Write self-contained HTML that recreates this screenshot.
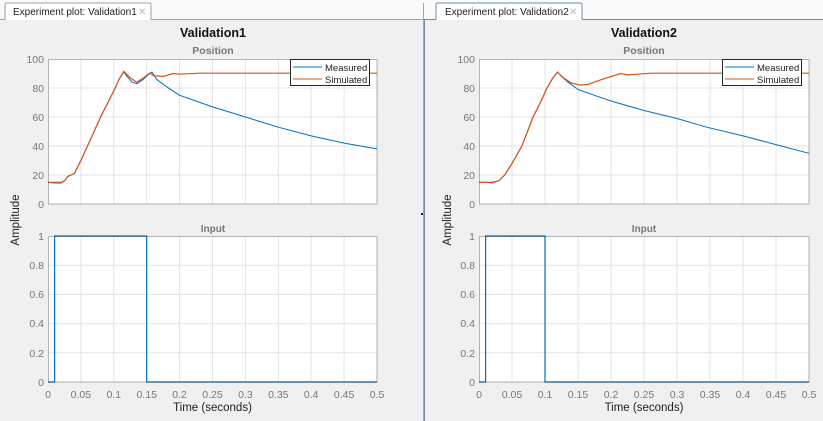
<!DOCTYPE html>
<html><head><meta charset="utf-8"><style>
html,body{margin:0;padding:0;background:#f0f0f0;}
svg{display:block;font-family:"Liberation Sans",Arial,sans-serif;}
</style></head><body>
<svg width="823" height="421" viewBox="0 0 823 421" xmlns="http://www.w3.org/2000/svg">
<rect width="823" height="421" fill="#f0f0f0"/>
<rect x="0" y="0" width="823" height="19" fill="#fafafa"/>
<line x1="0" y1="19.5" x2="423" y2="19.5" stroke="#a0a0a0"/>
<line x1="423" y1="19.5" x2="823" y2="19.5" stroke="#6d8bb0"/>
<path d="M5,20 V5 Q5,3 7,3 H149 Q151,3 151,5 V20" fill="#fff" stroke="#a0a0a0"/>
<text x="13" y="15" font-size="10" fill="#222">Experiment plot: Validation1</text>
<text x="138" y="15" font-size="10" fill="#bbb">✕</text>
<path d="M436,20 V5 Q436,3 438,3 H580 Q582,3 582,5 V20" fill="#fff" stroke="#6d8bb0"/>
<text x="445" y="15" font-size="10" fill="#222">Experiment plot: Validation2</text>
<text x="569" y="15" font-size="10" fill="#bbb">✕</text>
<line x1="423.5" y1="3" x2="423.5" y2="421" stroke="#9aa8b8"/>
<line x1="424.5" y1="19" x2="424.5" y2="421" stroke="#6d8bb0"/>
<rect x="421" y="213" width="2" height="2" fill="#222"/>

<g id="P1">
<text x="213" y="37" font-size="12.5" font-weight="bold" text-anchor="middle" fill="#111">Validation1</text>
<text x="213" y="54" font-size="10.5" font-weight="bold" text-anchor="middle" fill="#777">Position</text>
<text x="213" y="232" font-size="10" font-weight="bold" text-anchor="middle" fill="#777">Input</text>
<rect x="48" y="59" width="329" height="145" fill="#fff"/>
<rect x="48" y="236" width="329" height="146" fill="#fff"/>
<g stroke="#e3e3e3" stroke-width="1">
<path d="M80.9,59V204M113.8,59V204M146.7,59V204M179.6,59V204M212.5,59V204M245.4,59V204M278.3,59V204M311.2,59V204M344.1,59V204"/>
<path d="M48,175H377M48,146H377M48,117H377M48,88H377"/>
<path d="M80.9,236V382M113.8,236V382M146.7,236V382M179.6,236V382M212.5,236V382M245.4,236V382M278.3,236V382M311.2,236V382M344.1,236V382"/>
<path d="M48,352.8H377M48,323.6H377M48,294.4H377M48,265.2H377"/>
</g>
<polyline fill="none" stroke="#0072bd" stroke-width="1" stroke-linejoin="round" points="48,182.3 54.6,183 61.2,183 64.5,180.8 67.7,176.5 74.3,173.5 80.9,160.5 87.5,146 94.1,131.5 100.6,117 107.2,104 113.8,90.9 119.1,79.3 123.7,72 127,76.4 132.2,82.2 136.8,83.7 143.4,79.3 148,74.9 152,72 156.6,79.3 166.4,86.6 179.6,95.3 212.5,106.9 245.4,117 278.3,127.2 311.2,135.9 344.1,143.1 377,148.9"/>
<polyline fill="none" stroke="#d95319" stroke-width="1.2" stroke-linejoin="round" points="48,182.3 54.6,182.3 61.2,182.3 64.5,180.8 67.7,176.5 74.3,173.5 80.9,160.5 87.5,146 94.1,131.5 100.6,117 107.2,104 113.8,90.9 119.1,79.3 123.7,71.3 130.3,77.9 136.8,82.2 143.4,77.9 150,72.8 153.3,75.7 163.2,76.4 173,73.5 179.6,74.2 199.3,73.2 377,73.2"/>
<polyline fill="none" stroke="#0072bd" stroke-width="1.2" points="48,382 54.6,382 54.6,236 146.7,236 146.7,382 377,382"/>
<rect x="48.5" y="59.5" width="328.5" height="144.5" fill="none" stroke="#262626" stroke-opacity="0.35"/>
<rect x="48.5" y="236.5" width="328.5" height="145.5" fill="none" stroke="#262626" stroke-opacity="0.35"/>
<rect x="290.5" y="59.5" width="79" height="26" fill="#fff" stroke="#262626"/>
<line x1="293" y1="67" x2="322" y2="67" stroke="#0072bd"/>
<line x1="293" y1="79" x2="322" y2="79" stroke="#d95319"/>
<text x="325" y="71" font-size="9.5" fill="#222">Measured</text>
<text x="325" y="83" font-size="9.5" fill="#222">Simulated</text>
<g font-size="10.5" fill="#777" text-anchor="end">
<text x="44" y="63">100</text><text x="44" y="92">80</text><text x="44" y="121">60</text><text x="44" y="150">40</text><text x="44" y="179">20</text><text x="44" y="208">0</text>
<text x="44" y="240">1</text><text x="44" y="269">0.8</text><text x="44" y="298">0.6</text><text x="44" y="327">0.4</text><text x="44" y="357">0.2</text><text x="44" y="386">0</text>
</g>
<g font-size="10.5" fill="#777" text-anchor="middle">
<text x="48" y="398">0</text><text x="80.9" y="398">0.05</text><text x="113.8" y="398">0.1</text><text x="146.7" y="398">0.15</text><text x="179.6" y="398">0.2</text><text x="212.5" y="398">0.25</text><text x="245.4" y="398">0.3</text><text x="278.3" y="398">0.35</text><text x="311.2" y="398">0.4</text><text x="344.1" y="398">0.45</text><text x="377" y="398">0.5</text>
</g>
<text x="212.5" y="411" font-size="11.5" text-anchor="middle" fill="#222">Time (seconds)</text>
<text transform="translate(19,220) rotate(-90)" font-size="11.5" text-anchor="middle" fill="#222">Amplitude</text>
</g>

<g id="P2">
<text x="644" y="37" font-size="12.5" font-weight="bold" text-anchor="middle" fill="#111">Validation2</text>
<text x="644" y="54" font-size="10.5" font-weight="bold" text-anchor="middle" fill="#777">Position</text>
<text x="644" y="232" font-size="10" font-weight="bold" text-anchor="middle" fill="#777">Input</text>
<rect x="479" y="59" width="330" height="145" fill="#fff"/>
<rect x="479" y="236" width="330" height="146" fill="#fff"/>
<g stroke="#e3e3e3" stroke-width="1">
<path d="M512,59V204M545,59V204M578,59V204M611,59V204M644,59V204M677,59V204M710,59V204M743,59V204M776,59V204"/>
<path d="M479,175H809M479,146H809M479,117H809M479,88H809"/>
<path d="M512,236V382M545,236V382M578,236V382M611,236V382M644,236V382M677,236V382M710,236V382M743,236V382M776,236V382"/>
<path d="M479,352.8H809M479,323.6H809M479,294.4H809M479,265.2H809"/>
</g>
<polyline fill="none" stroke="#0072bd" stroke-width="1" stroke-linejoin="round" points="479,182.3 485.6,182.3 492.2,183 498.8,180.8 504.7,175 512,163.4 521.9,146 533.1,117 540.4,102.5 547,88 552.9,77.9 557.5,72 561.5,76.4 568.1,82.2 578,89.5 594.5,95.3 611,101 644,110.5 677,118.5 706.7,127.2 743,135.9 776,144.6 809,153.3"/>
<polyline fill="none" stroke="#d95319" stroke-width="1.2" stroke-linejoin="round" points="479,182.3 485.6,182.3 492.2,182.3 498.8,180.8 504.7,175 512,163.4 521.9,146 533.1,117 540.4,102.5 547,88 552.9,77.9 557.5,72 563.5,77.9 571.4,83 580,85.1 587.9,84.4 604.4,78.6 620.9,73.5 627.5,74.9 637.4,74.2 650.6,73.2 809,73.2"/>
<polyline fill="none" stroke="#0072bd" stroke-width="1.2" points="479,382 485.6,382 485.6,236 545,236 545,382 809,382"/>
<rect x="479.5" y="59.5" width="329.5" height="144.5" fill="none" stroke="#262626" stroke-opacity="0.35"/>
<rect x="479.5" y="236.5" width="329.5" height="145.5" fill="none" stroke="#262626" stroke-opacity="0.35"/>
<rect x="722.5" y="59.5" width="79" height="26" fill="#fff" stroke="#262626"/>
<line x1="725" y1="67" x2="754" y2="67" stroke="#0072bd"/>
<line x1="725" y1="79" x2="754" y2="79" stroke="#d95319"/>
<text x="757" y="71" font-size="9.5" fill="#222">Measured</text>
<text x="757" y="83" font-size="9.5" fill="#222">Simulated</text>
<g font-size="10.5" fill="#777" text-anchor="end">
<text x="475" y="63">100</text><text x="475" y="92">80</text><text x="475" y="121">60</text><text x="475" y="150">40</text><text x="475" y="179">20</text><text x="475" y="208">0</text>
<text x="475" y="240">1</text><text x="475" y="269">0.8</text><text x="475" y="298">0.6</text><text x="475" y="327">0.4</text><text x="475" y="357">0.2</text><text x="475" y="386">0</text>
</g>
<g font-size="10.5" fill="#777" text-anchor="middle">
<text x="479" y="398">0</text><text x="512" y="398">0.05</text><text x="545" y="398">0.1</text><text x="578" y="398">0.15</text><text x="611" y="398">0.2</text><text x="644" y="398">0.25</text><text x="677" y="398">0.3</text><text x="710" y="398">0.35</text><text x="743" y="398">0.4</text><text x="776" y="398">0.45</text><text x="809" y="398">0.5</text>
</g>
<text x="644" y="411" font-size="11.5" text-anchor="middle" fill="#222">Time (seconds)</text>
<text transform="translate(451,220) rotate(-90)" font-size="11.5" text-anchor="middle" fill="#222">Amplitude</text>
</g>
</svg>
</body></html>
